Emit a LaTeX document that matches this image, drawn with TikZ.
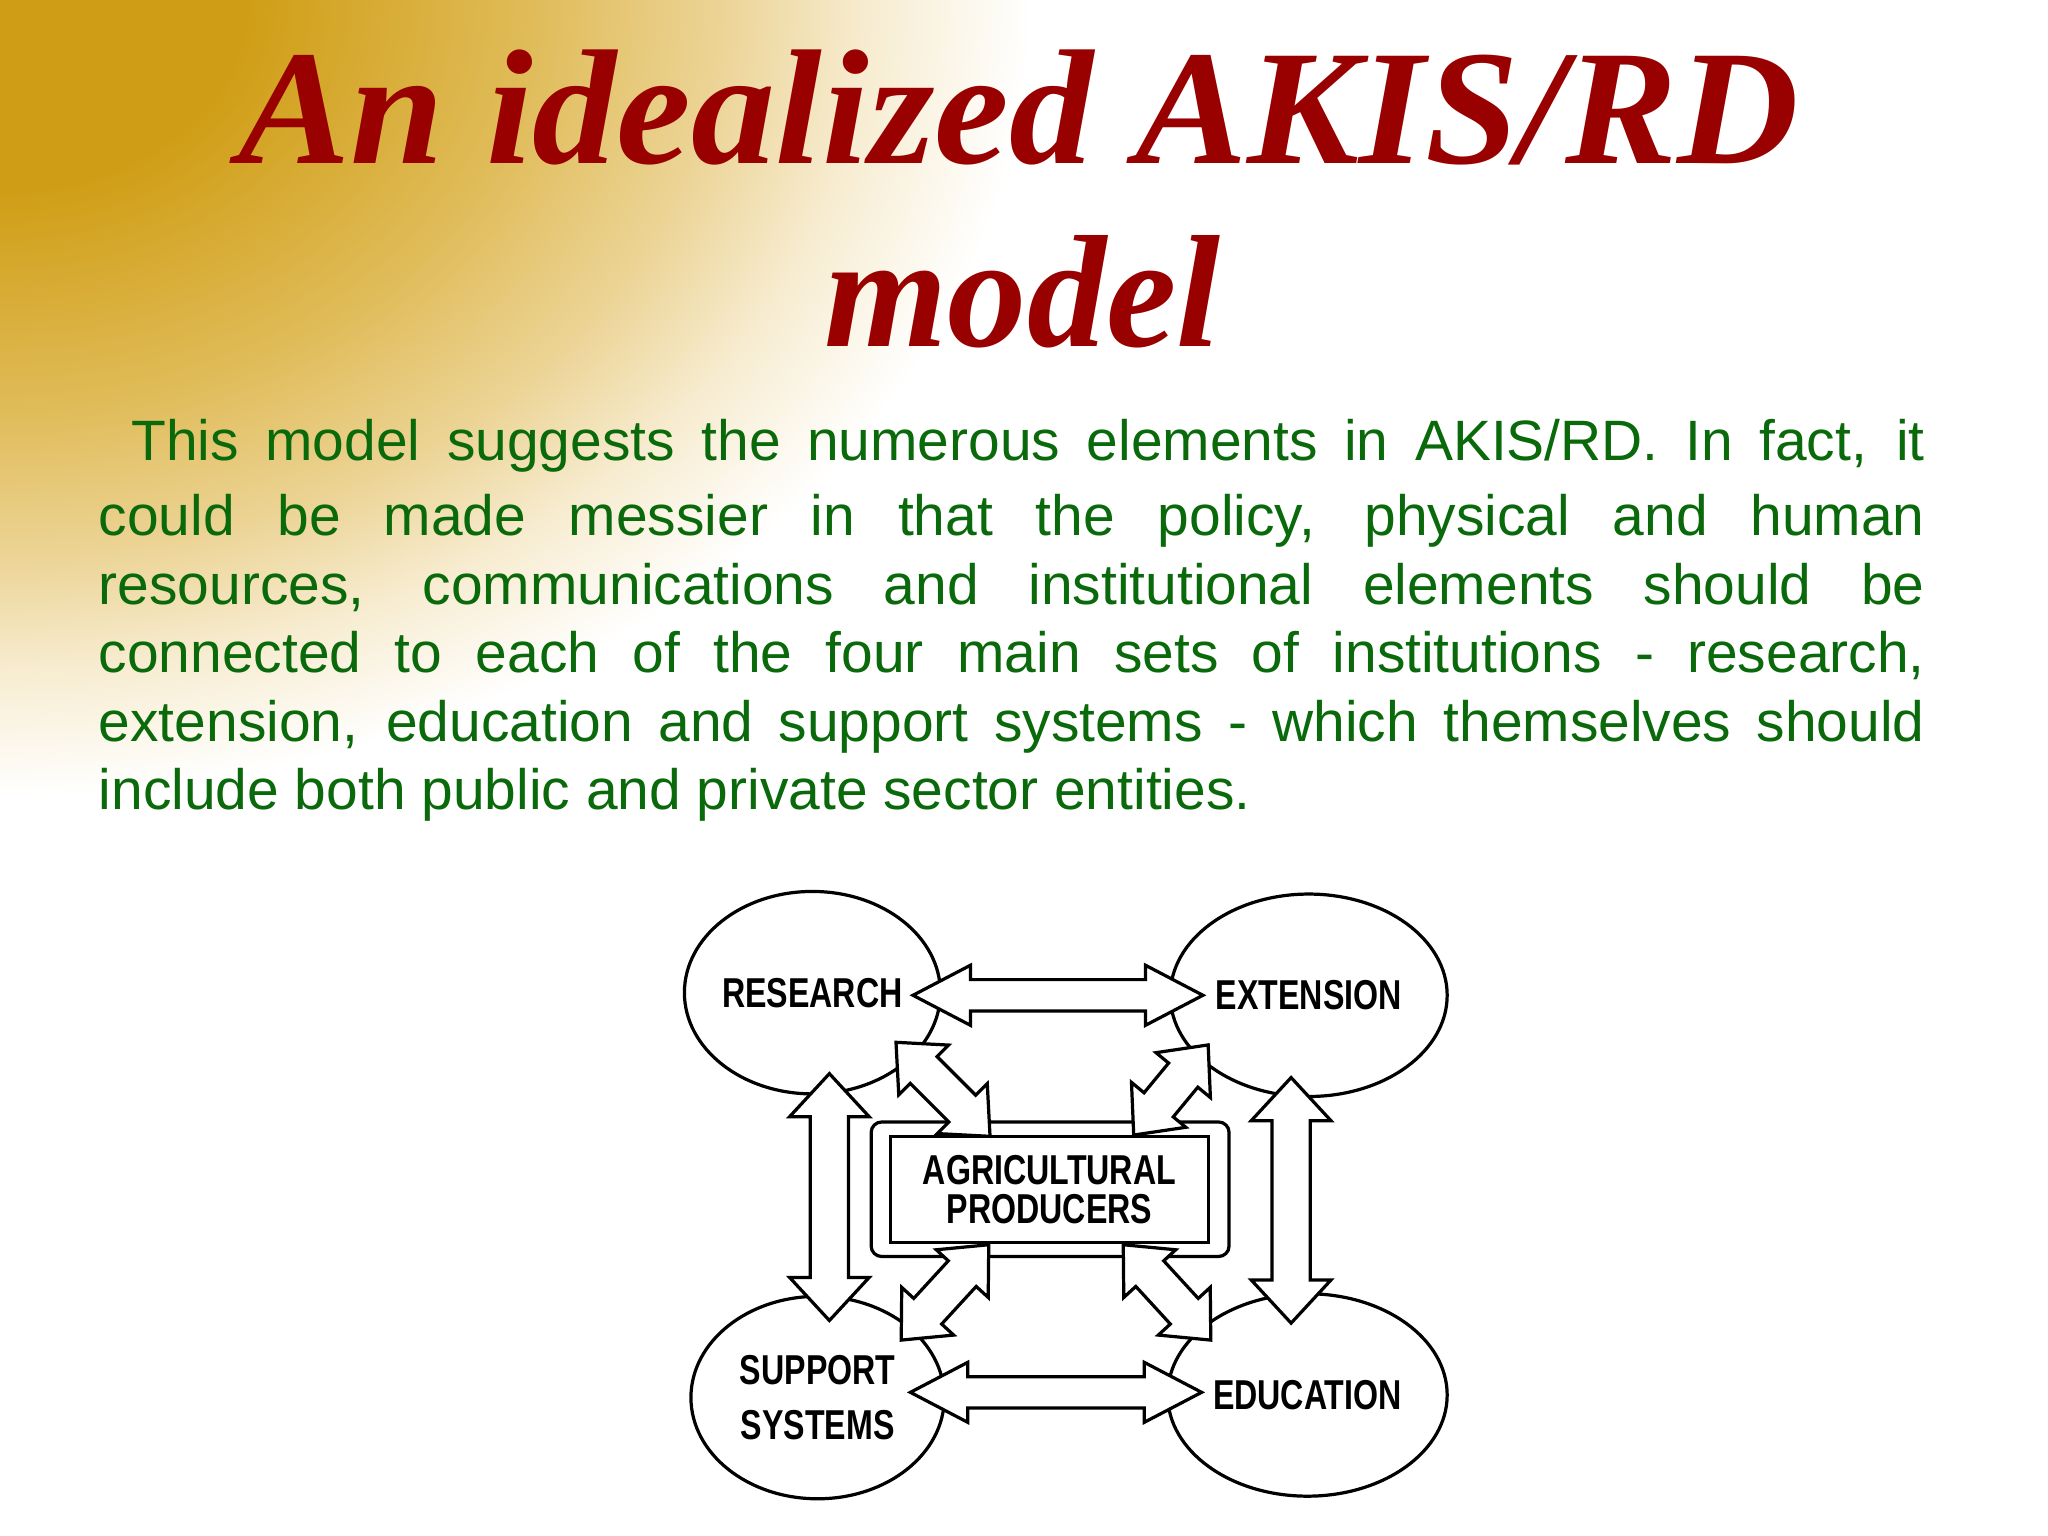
\documentclass[tikz,border=0pt]{standalone}
\usepackage{fontspec}
\usepackage{graphicx}
\usepackage{tikz}
\usepackage{xcolor}
\usetikzlibrary{positioning,shapes.geometric,calc}

\setmainfont{Liberation Sans}
\newfontfamily\titlefont{Liberation Serif}
\newfontfamily\boxfont[FakeStretch=0.77]{Liberation Sans}

\definecolor{goldA}{RGB}{208,158,22}
\definecolor{goldB}{RGB}{224,188,90}
\definecolor{goldC}{RGB}{236,212,150}
\definecolor{goldD}{RGB}{247,236,208}
\definecolor{titlered}{RGB}{153,0,0}
\definecolor{bodygreen}{RGB}{10,105,10}

\pgfdeclareradialshading{goldfade}{\pgfpoint{0bp}{0bp}}{%
  color(0bp)=(goldA); color(6bp)=(goldA); color(13bp)=(goldB);
  color(17.5bp)=(goldC); color(21bp)=(goldD); color(25bp)=(white);
  color(50bp)=(white)}

% fat two-headed arrow: from, to, head length, head half width, shaft half width
\newcommand{\blockarrow}[5]{%
  \coordinate (bh1) at ($(#1)!#3!(#2)$);
  \coordinate (bh2) at ($(#2)!#3!(#1)$);
  \draw[blockarr] (#1)
    -- ($(bh1)!#4!90:(#2)$) -- ($(bh1)!#5!90:(#2)$)
    -- ($(bh2)!#5!-90:(#1)$) -- ($(bh2)!#4!-90:(#1)$)
    -- (#2)
    -- ($(bh2)!#4!90:(#1)$) -- ($(bh2)!#5!90:(#1)$)
    -- ($(bh1)!#5!-90:(#2)$) -- ($(bh1)!#4!-90:(#2)$)
    -- cycle;}

\begin{document}
\begin{tikzpicture}[
    x=0.1mm, y=-0.1mm,
    bubble/.style={draw, ellipse, fill=white, line width=0.7pt, inner sep=0pt,
                   minimum width=#1, minimum height=15.5mm, align=center,
                   font=\boxfont\bfseries\fontsize{9.1}{11.9}\selectfont},
    bubble/.default=19.6mm,
    outerbox/.style={draw, fill=white, line width=0.7pt, rounded corners=0.8mm,
                     minimum width=27.4mm, minimum height=10.3mm},
    prodbox/.style={draw, fill=white, line width=0.7pt, inner sep=0pt,
                    minimum width=24.3mm, minimum height=8.1mm, align=center,
                    font=\boxfont\bfseries\fontsize{9.1}{8.4}\selectfont},
    blockarr/.style={draw, fill=white, line width=0.7pt, line join=miter},
    heading/.style={text=titlered, inner sep=0pt, font=\titlefont\bfseries\itshape},
    para/.style={text=bodygreen, inner sep=0pt, align=left,
                 font=\fontsize{12.4}{14.9}\selectfont},
  ]

  % Page and background
  \useasboundingbox (0,0) rectangle (1568,1176);
  \fill[white] (0,0) rectangle (1568,1176);
  \begin{scope}
    \clip (0,0) rectangle (1568,1176);
    \shade[shading=goldfade] (0,0) ellipse [x radius=79mm, y radius=61mm];
  \end{scope}

  % Title
  \node[heading, anchor=base] (title1) at (780,125)
    {\resizebox{119.5mm}{8.7mm}{An idealized AKIS/RD}};
  \node[heading, anchor=base] (title2) at (783,265)
    {\resizebox{30.3mm}{8.5mm}{model}};

  % Text
  \node[para, anchor=north west] (body) at (75,320) {%
    \makebox[139.8mm][s]{\hspace*{2.5mm}This model suggests the numerous elements in AKIS/RD. In fact, it}\\[1.6pt]
    \makebox[139.8mm][s]{could be made messier in that the policy, physical and human}\\
    \makebox[139.8mm][s]{resources, communications and institutional elements should be}\\
    \makebox[139.8mm][s]{connected to each of the four main sets of institutions - research,}\\
    \makebox[139.8mm][s]{extension, education and support systems - which themselves should}\\
    include both public and private sector entities.};

  % Four sets of institutions
  \node[bubble] (res) at (622,760) {RESEARCH};
  \node[bubble=21.2mm] (ext) at (1002,762) {EXTENSION};
  \node[bubble=19.4mm] (sup) at (626,1070) {SUPPORT\\SYSTEMS};
  \node[bubble=21.4mm] (edu) at (1001,1068) {EDUCATION};

  % Producers in the middle
  \node[outerbox] (frame) at (804,910.5) {};
  \node[prodbox] (prod) at (803.5,910.8) {AGRICULTURAL\\PRODUCERS};

  % Arrow ends
  \coordinate (resE) at (699,762);
  \coordinate (extW) at (921,762);
  \coordinate (supE) at (697,1066);
  \coordinate (eduW) at (920,1066);
  \coordinate (resS) at (635,822);
  \coordinate (supN) at (635,1011);
  \coordinate (extS) at (988.5,825);
  \coordinate (eduN) at (988.5,1013);
  \coordinate (resSE) at (686,798);
  \coordinate (prodNW) at (758,870);
  \coordinate (extSW) at (925,800);
  \coordinate (prodNE) at (868,869);
  \coordinate (supNE) at (690,1026);
  \coordinate (prodSW) at (757,953);
  \coordinate (eduNW) at (927,1026);
  \coordinate (prodSE) at (860,953);

  % Arrows
  \blockarrow{resE}{extW}{4.4mm}{2.3mm}{1.2mm}
  \blockarrow{supE}{eduW}{4.4mm}{2.3mm}{1.2mm}
  \blockarrow{resS}{supN}{3.3mm}{3.05mm}{1.47mm}
  \blockarrow{extS}{eduN}{3.3mm}{3.05mm}{1.47mm}
  \blockarrow{resSE}{prodNW}{3.0mm}{2.7mm}{1.45mm}
  \blockarrow{extSW}{prodNE}{3.0mm}{2.7mm}{1.45mm}
  \blockarrow{supNE}{prodSW}{3.0mm}{2.7mm}{1.45mm}
  \blockarrow{eduNW}{prodSE}{3.0mm}{2.7mm}{1.45mm}

\end{tikzpicture}
\end{document}
